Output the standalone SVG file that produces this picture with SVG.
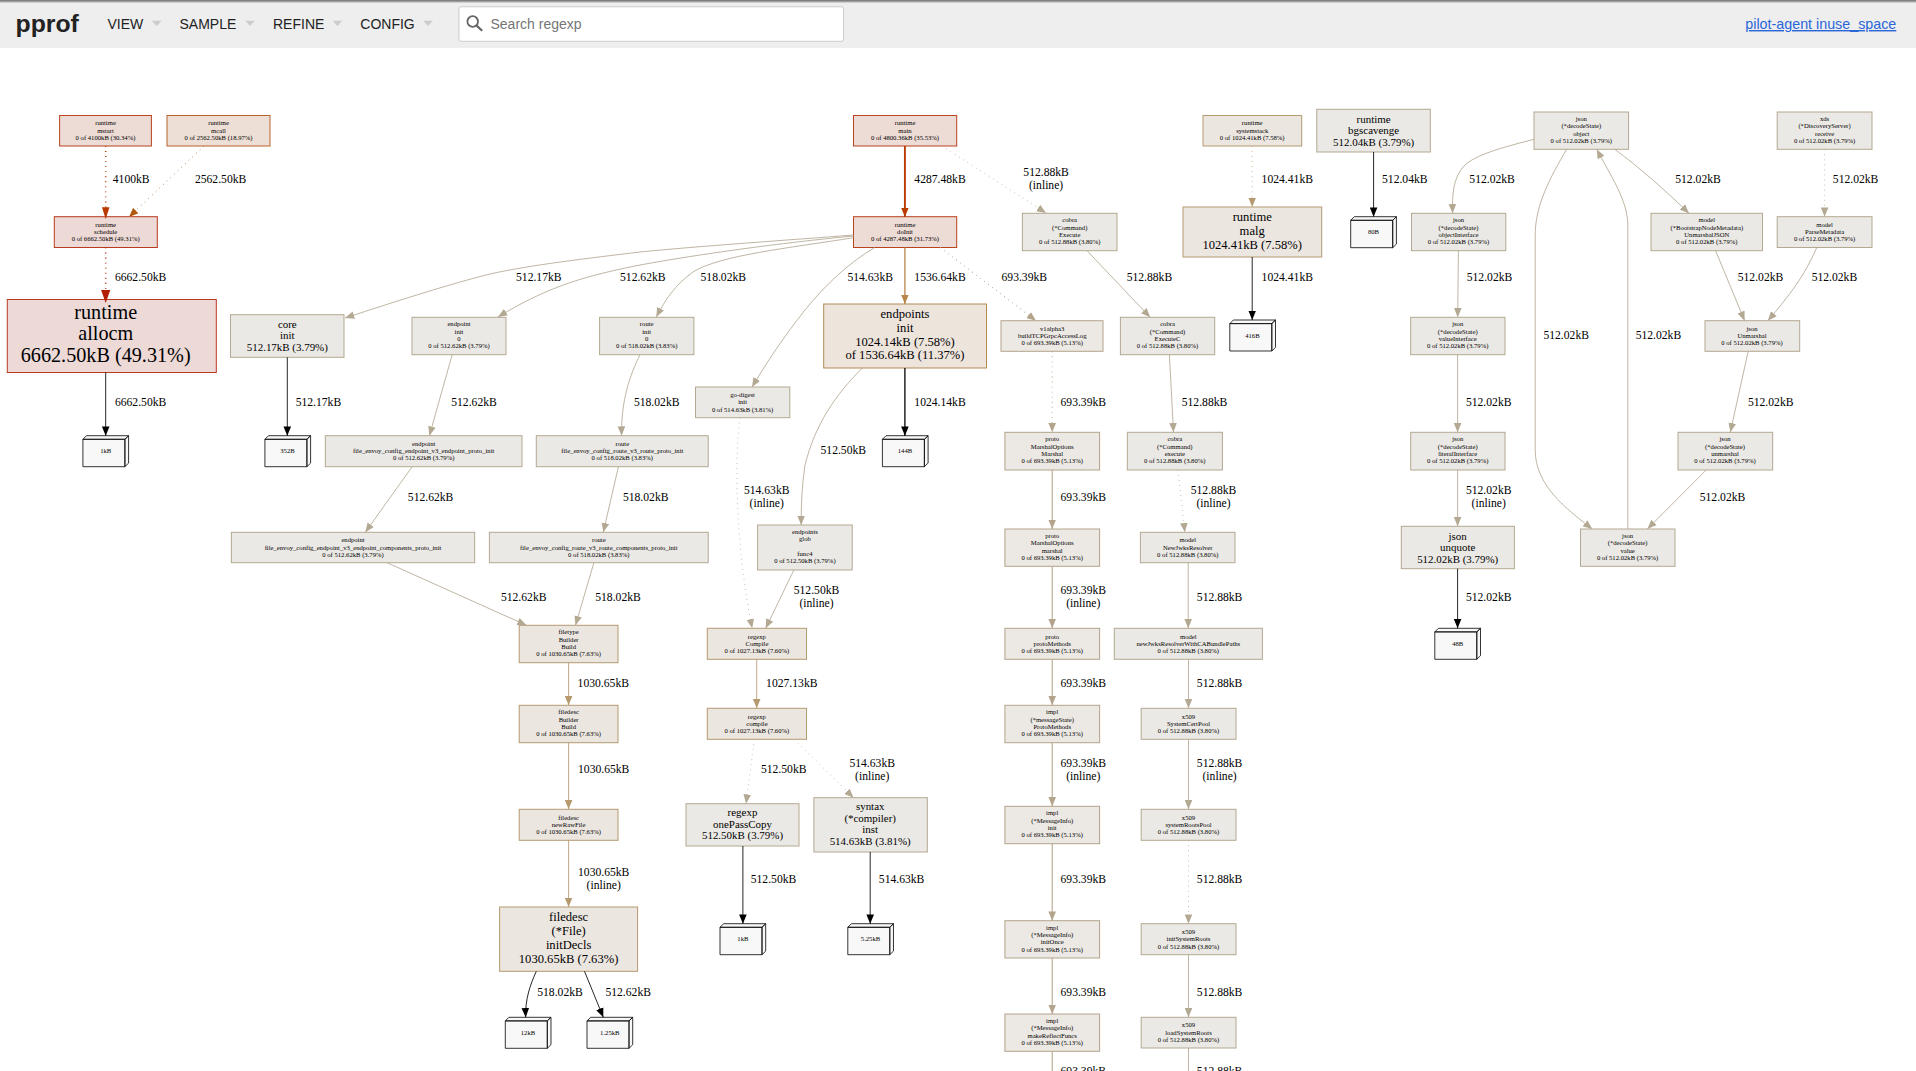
<svg xmlns="http://www.w3.org/2000/svg" width="1916" height="1071" viewBox="0 0 1916 1071">
<style>
text{fill:#000;font-family:"Liberation Serif","Times New Roman",serif;text-anchor:middle}
.hd{font-family:"Liberation Sans",Arial,sans-serif;text-anchor:start;font-size:14px;fill:#222}
.n{font-size:6.65px}
.e{font-size:11.64px}
.b11{font-size:10.95px}
.b12{font-size:12.58px}
.b20{font-size:20.2px}
rect.c38{fill:#ebe9e5;stroke:#b3a892}
rect.c51{fill:#ece8e3;stroke:#b3a48b}
rect.c76{fill:#ece6e0;stroke:#b59a70}
rect.c11{fill:#ede4dc;stroke:#b28a58}
rect.c19{fill:#eddfd5;stroke:#b8622a}
rect.c30{fill:#eddbd5;stroke:#b8431c}
rect.c49{fill:#edd9d6;stroke:#b83a20}
.box{fill:#f8f8f8;stroke:#111;stroke-width:.85}
.ed{fill:none;stroke-width:.85}
.d{stroke-dasharray:.85,4.2}
.s38{stroke:#b3a892;marker-end:url(#a38)}
.s51{stroke:#b3a48b;stroke-width:1.05;marker-end:url(#a51)}
.s76{stroke:#b59a70;marker-end:url(#a76)}
.s11{stroke:#b8854a;stroke-width:1.3;marker-end:url(#a11)}
.s19{stroke:#b25a10;marker-end:url(#a19)}
.s30{stroke:#b83a00;stroke-width:1.5;marker-end:url(#a30)}
.s32{stroke:#b83c00;stroke-width:1.9;marker-end:url(#a32)}
.s49{stroke:#b22000;stroke-width:1.5;marker-end:url(#a49)}
.k{stroke:#000;marker-end:url(#ak)}
.t38{stroke:#b3a892}
.t51{stroke:#b3a48b;stroke-width:1.05}
</style>
<defs>
<marker id="a38" markerUnits="userSpaceOnUse" markerWidth="10" markerHeight="8" refX="9.3" refY="4" orient="auto"><path d="M0,.2L9.3,4L0,7.8z" fill="#b3a892"/></marker>
<marker id="a51" markerUnits="userSpaceOnUse" markerWidth="10" markerHeight="8" refX="9.3" refY="4" orient="auto"><path d="M0,.2L9.3,4L0,7.8z" fill="#b3a48b"/></marker>
<marker id="a76" markerUnits="userSpaceOnUse" markerWidth="10" markerHeight="8" refX="9.3" refY="4" orient="auto"><path d="M0,.2L9.3,4L0,7.8z" fill="#b59a70"/></marker>
<marker id="a11" markerUnits="userSpaceOnUse" markerWidth="10" markerHeight="8" refX="9.3" refY="4" orient="auto"><path d="M0,.2L9.3,4L0,7.8z" fill="#b8854a"/></marker>
<marker id="a19" markerUnits="userSpaceOnUse" markerWidth="10" markerHeight="8" refX="9.3" refY="4" orient="auto"><path d="M0,.2L9.3,4L0,7.8z" fill="#b25a10"/></marker>
<marker id="a30" markerUnits="userSpaceOnUse" markerWidth="12" markerHeight="8" refX="11.7" refY="4" orient="auto"><path d="M0,.2L11.7,4L0,7.8z" fill="#b83a00"/></marker>
<marker id="a32" markerUnits="userSpaceOnUse" markerWidth="10" markerHeight="8" refX="9.3" refY="4" orient="auto"><path d="M0,.2L9.3,4L0,7.8z" fill="#b83c00"/></marker>
<marker id="a49" markerUnits="userSpaceOnUse" markerWidth="13" markerHeight="10" refX="13" refY="5" orient="auto"><path d="M0,.4L13,5L0,9.6z" fill="#b22000"/></marker>
<marker id="ak" markerUnits="userSpaceOnUse" markerWidth="10" markerHeight="8" refX="9.3" refY="4" orient="auto"><path d="M0,.2L9.3,4L0,7.8z" fill="#000"/></marker>
<path id="cube" class="box" d="M0,3.6L42,3.6L42,31L0,31ZM0,3.6L3.6,0L45.7,0L42,3.6ZM45.7,0L45.7,27.4L42,31L42,3.6Z"/>
</defs>
<rect width="1916" height="1071" fill="#fff"/>
<g id="header">
<rect width="1916" height="48" fill="#eee"/>
<rect width="1916" height="1" fill="#808080"/>
<rect y="1" width="1916" height="1" fill="#a0a0a0"/>
<rect y="2" width="1916" height="1" fill="#cfcfcf"/>
<text class="hd" x="15.5" y="32" style="font-size:24.8px;font-weight:bold">pprof</text>
<text class="hd" x="107.5" y="29">VIEW</text><path d="M151.8,20.8H161.6L156.7,26z" fill="#ccc"/>
<text class="hd" x="179.5" y="29">SAMPLE</text><path d="M245.3,20.8H254.9L250.1,26z" fill="#ccc"/>
<text class="hd" x="273" y="29">REFINE</text><path d="M332.7,20.8H342.3L337.5,26z" fill="#ccc"/>
<text class="hd" x="360.3" y="29">CONFIG</text><path d="M423.3,20.8H432.9L428.1,26z" fill="#ccc"/>
<rect x="459" y="6.8" width="384.5" height="34.5" rx="2" fill="#fff" stroke="#ccc"/>
<circle cx="472.7" cy="21.5" r="5.3" fill="none" stroke="#666" stroke-width="1.8"/>
<path d="M476.6,25.6L482.2,30.7" fill="none" stroke="#666" stroke-width="2.2"/>
<text class="hd" x="490.5" y="29" style="fill:#757575">Search regexp</text>
<text class="hd" x="1745.3" y="29" style="fill:#2a66d9;font-size:14.3px;text-decoration:underline">pilot-agent inuse_space</text>
</g>
<g id="nodes">
<g id="n1"><rect class="c30" x="59.6" y="115.5" width="91.8" height="30.5"/><text class="n" y="125.4"><tspan x="105.5">runtime</tspan><tspan x="105.5" dy="7.3">mstart</tspan><tspan x="105.5" dy="7.3">0 of 4100kB (30.34%)</tspan></text></g>
<g id="n2"><rect class="c19" x="167" y="115.5" width="103" height="30.5"/><text class="n" y="125.4"><tspan x="218.5">runtime</tspan><tspan x="218.5" dy="7.3">mcall</tspan><tspan x="218.5" dy="7.3">0 of 2562.50kB (18.97%)</tspan></text></g>
<g id="n3"><rect class="c49" x="54.3" y="216.7" width="103" height="30.8"/><text class="n" y="226.6"><tspan x="105.7">runtime</tspan><tspan x="105.7" dy="7.3">schedule</tspan><tspan x="105.7" dy="7.3">0 of 6662.50kB (49.31%)</tspan></text></g>
<g id="n4"><rect class="c49" x="7.3" y="299.5" width="209" height="73"/><text class="b20" y="318.7"><tspan x="105.7">runtime</tspan><tspan x="105.7" dy="21.7">allocm</tspan><tspan x="105.7" dy="21.7">6662.50kB (49.31%)</tspan></text></g>
<g id="n5"><use href="#cube" x="82.9" y="435.7"/><text class="n" x="105.7" y="453.3">1kB</text></g>
<g id="n6"><rect class="c38" x="230.5" y="314.7" width="113.5" height="42.6"/><text class="b11" y="327.5"><tspan x="287.3">core</tspan><tspan x="287.3" dy="11.8">init</tspan><tspan x="287.3" dy="11.8">512.17kB (3.79%)</tspan></text></g>
<g id="n7"><use href="#cube" x="264.9" y="435.7"/><text class="n" x="287.5" y="453.3">352B</text></g>
<g id="n8"><rect class="c38" x="412" y="317.3" width="94" height="37.4"/><text class="n" y="326.2"><tspan x="459">endpoint</tspan><tspan x="459" dy="7.3">init</tspan><tspan x="459" dy="7.3">0</tspan><tspan x="459" dy="7.3">0 of 512.62kB (3.79%)</tspan></text></g>
<g id="n9"><rect class="c38" x="599.6" y="317.3" width="94.3" height="37.4"/><text class="n" y="326.2"><tspan x="646.7">route</tspan><tspan x="646.7" dy="7.3">init</tspan><tspan x="646.7" dy="7.3">0</tspan><tspan x="646.7" dy="7.3">0 of 518.02kB (3.83%)</tspan></text></g>
<g id="n10"><rect class="c38" x="325.3" y="435.7" width="196.7" height="31"/><text class="n" y="445.8"><tspan x="423.7">endpoint</tspan><tspan x="423.7" dy="7.3">file_envoy_config_endpoint_v3_endpoint_proto_init</tspan><tspan x="423.7" dy="7.3">0 of 512.62kB (3.79%)</tspan></text></g>
<g id="n11"><rect class="c38" x="536.3" y="435.7" width="171.9" height="31"/><text class="n" y="445.8"><tspan x="622.3">route</tspan><tspan x="622.3" dy="7.3">file_envoy_config_route_v3_route_proto_init</tspan><tspan x="622.3" dy="7.3">0 of 518.02kB (3.83%)</tspan></text></g>
<g id="n12"><rect class="c38" x="231.4" y="532.3" width="243.3" height="30.4"/><text class="n" y="542.3"><tspan x="353">endpoint</tspan><tspan x="353" dy="7.3">file_envoy_config_endpoint_v3_endpoint_components_proto_init</tspan><tspan x="353" dy="7.3">0 of 512.62kB (3.79%)</tspan></text></g>
<g id="n13"><rect class="c38" x="489.4" y="532.3" width="218.8" height="30.4"/><text class="n" y="542.3"><tspan x="598.8">route</tspan><tspan x="598.8" dy="7.3">file_envoy_config_route_v3_route_components_proto_init</tspan><tspan x="598.8" dy="7.3">0 of 518.02kB (3.83%)</tspan></text></g>
<g id="n14"><rect class="c76" x="519.2" y="625.3" width="98.8" height="37.4"/><text class="n" y="634.2"><tspan x="568.6">filetype</tspan><tspan x="568.6" dy="7.3">Builder</tspan><tspan x="568.6" dy="7.3">Build</tspan><tspan x="568.6" dy="7.3">0 of 1030.65kB (7.63%)</tspan></text></g>
<g id="n15"><rect class="c76" x="519.2" y="705.3" width="98.8" height="37.4"/><text class="n" y="714.2"><tspan x="568.6">filedesc</tspan><tspan x="568.6" dy="7.3">Builder</tspan><tspan x="568.6" dy="7.3">Build</tspan><tspan x="568.6" dy="7.3">0 of 1030.65kB (7.63%)</tspan></text></g>
<g id="n16"><rect class="c76" x="519.2" y="809.3" width="98.8" height="31"/><text class="n" y="819.6"><tspan x="568.6">filedesc</tspan><tspan x="568.6" dy="7.3">newRawFile</tspan><tspan x="568.6" dy="7.3">0 of 1030.65kB (7.63%)</tspan></text></g>
<g id="n17"><rect class="c76" x="499.6" y="907" width="138" height="64.3"/><text class="b12" y="921"><tspan x="568.6">filedesc</tspan><tspan x="568.6" dy="14">(*File)</tspan><tspan x="568.6" dy="13.7">initDecls</tspan><tspan x="568.6" dy="13.8">1030.65kB (7.63%)</tspan></text></g>
<g id="n18"><use href="#cube" x="505.3" y="1017.3"/><text class="n" x="528" y="1035">12kB</text></g>
<g id="n19"><use href="#cube" x="587" y="1017.3"/><text class="n" x="609.8" y="1035">1.25kB</text></g>
<g id="n20"><rect class="c30" x="853.5" y="115.5" width="103.2" height="30.5"/><text class="n" y="125.4"><tspan x="905">runtime</tspan><tspan x="905" dy="7.3">main</tspan><tspan x="905" dy="7.3">0 of 4800.36kB (35.53%)</tspan></text></g>
<g id="n21"><rect class="c30" x="853.5" y="216.7" width="103.2" height="30.8"/><text class="n" y="226.6"><tspan x="905">runtime</tspan><tspan x="905" dy="7.3">doInit</tspan><tspan x="905" dy="7.3">0 of 4287.48kB (31.73%)</tspan></text></g>
<g id="n22"><rect class="c38" x="1022.4" y="213.3" width="94.6" height="37.4"/><text class="n" y="222.2"><tspan x="1069.7">cobra</tspan><tspan x="1069.7" dy="7.3">(*Command)</tspan><tspan x="1069.7" dy="7.3">Execute</tspan><tspan x="1069.7" dy="7.3">0 of 512.88kB (3.80%)</tspan></text></g>
<g id="n23"><rect class="c11" x="823.7" y="304" width="162.8" height="64"/><text class="b12" y="318.2"><tspan x="905">endpoints</tspan><tspan x="905" dy="13.7">init</tspan><tspan x="905" dy="13.7">1024.14kB (7.58%)</tspan><tspan x="905" dy="13.7">of 1536.64kB (11.37%)</tspan></text></g>
<g id="n24"><rect class="c51" x="1001" y="320.7" width="102" height="30.6"/><text class="n" y="330.6"><tspan x="1052.2">v1alpha3</tspan><tspan x="1052.2" dy="7.3">buildTCPGrpcAccessLog</tspan><tspan x="1052.2" dy="7.3">0 of 693.39kB (5.13%)</tspan></text></g>
<g id="n25"><rect class="c38" x="1120.4" y="317.3" width="94.3" height="37.4"/><text class="n" y="326.2"><tspan x="1167.5">cobra</tspan><tspan x="1167.5" dy="7.3">(*Command)</tspan><tspan x="1167.5" dy="7.3">ExecuteC</tspan><tspan x="1167.5" dy="7.3">0 of 512.88kB (3.80%)</tspan></text></g>
<g id="n26"><rect class="c76" x="1203" y="115.5" width="98.7" height="30.5"/><text class="n" y="125.4"><tspan x="1252.2">runtime</tspan><tspan x="1252.2" dy="7.3">systemstack</tspan><tspan x="1252.2" dy="7.3">0 of 1024.41kB (7.58%)</tspan></text></g>
<g id="n27"><rect class="c76" x="1183" y="207" width="138.7" height="50"/><text class="b12" y="221"><tspan x="1252.2">runtime</tspan><tspan x="1252.2" dy="13.9">malg</tspan><tspan x="1252.2" dy="13.9">1024.41kB (7.58%)</tspan></text></g>
<g id="n28"><use href="#cube" x="1229.8" y="320"/><text class="n" x="1252.4" y="338">416B</text></g>
<g id="n29"><rect class="c38" x="1316.8" y="109.3" width="113.5" height="42.7"/><text class="b11" y="122.5"><tspan x="1373.6">runtime</tspan><tspan x="1373.6" dy="11.8">bgscavenge</tspan><tspan x="1373.6" dy="11.8">512.04kB (3.79%)</tspan></text></g>
<g id="n30"><use href="#cube" x="1350.7" y="216.7"/><text class="n" x="1373.5" y="234.3">80B</text></g>
<g id="n31"><rect class="c38" x="1534" y="112" width="94.6" height="37.3"/><text class="n" y="120.9"><tspan x="1581.3">json</tspan><tspan x="1581.3" dy="7.3">(*decodeState)</tspan><tspan x="1581.3" dy="7.3">object</tspan><tspan x="1581.3" dy="7.3">0 of 512.02kB (3.79%)</tspan></text></g>
<g id="n32"><rect class="c38" x="1777.2" y="112" width="94.8" height="37.3"/><text class="n" y="120.9"><tspan x="1824.6">xds</tspan><tspan x="1824.6" dy="7.3">(*DiscoveryServer)</tspan><tspan x="1824.6" dy="7.3">receive</tspan><tspan x="1824.6" dy="7.3">0 of 512.02kB (3.79%)</tspan></text></g>
<g id="n33"><rect class="c38" x="1411.5" y="213.3" width="94.3" height="37.4"/><text class="n" y="222.2"><tspan x="1458.5">json</tspan><tspan x="1458.5" dy="7.3">(*decodeState)</tspan><tspan x="1458.5" dy="7.3">objectInterface</tspan><tspan x="1458.5" dy="7.3">0 of 512.02kB (3.79%)</tspan></text></g>
<g id="n34"><rect class="c38" x="1651" y="213.3" width="111.5" height="37.4"/><text class="n" y="222.2"><tspan x="1706.8">model</tspan><tspan x="1706.8" dy="7.3">(*BootstrapNodeMetadata)</tspan><tspan x="1706.8" dy="7.3">UnmarshalJSON</tspan><tspan x="1706.8" dy="7.3">0 of 512.02kB (3.79%)</tspan></text></g>
<g id="n35"><rect class="c38" x="1777.2" y="216.7" width="94.8" height="30.8"/><text class="n" y="226.6"><tspan x="1824.6">model</tspan><tspan x="1824.6" dy="7.3">ParseMetadata</tspan><tspan x="1824.6" dy="7.3">0 of 512.02kB (3.79%)</tspan></text></g>
<g id="n36"><rect class="c38" x="1410.7" y="317.3" width="94.3" height="37.4"/><text class="n" y="326.2"><tspan x="1457.7">json</tspan><tspan x="1457.7" dy="7.3">(*decodeState)</tspan><tspan x="1457.7" dy="7.3">valueInterface</tspan><tspan x="1457.7" dy="7.3">0 of 512.02kB (3.79%)</tspan></text></g>
<g id="n37"><rect class="c38" x="1705" y="320.7" width="94.7" height="30.6"/><text class="n" y="330.6"><tspan x="1752">json</tspan><tspan x="1752" dy="7.3">Unmarshal</tspan><tspan x="1752" dy="7.3">0 of 512.02kB (3.79%)</tspan></text></g>
<g id="n38"><rect class="c38" x="1410.7" y="432.3" width="94.3" height="37.7"/><text class="n" y="441.3"><tspan x="1457.7">json</tspan><tspan x="1457.7" dy="7.3">(*decodeState)</tspan><tspan x="1457.7" dy="7.3">literalInterface</tspan><tspan x="1457.7" dy="7.3">0 of 512.02kB (3.79%)</tspan></text></g>
<g id="n39"><rect class="c38" x="1678" y="432.3" width="94.7" height="37.7"/><text class="n" y="441.3"><tspan x="1725">json</tspan><tspan x="1725" dy="7.3">(*decodeState)</tspan><tspan x="1725" dy="7.3">unmarshal</tspan><tspan x="1725" dy="7.3">0 of 512.02kB (3.79%)</tspan></text></g>
<g id="n40"><rect class="c38" x="1401.3" y="526.3" width="113.1" height="42.4"/><text class="b11" y="539.5"><tspan x="1457.7">json</tspan><tspan x="1457.7" dy="11.8">unquote</tspan><tspan x="1457.7" dy="11.8">512.02kB (3.79%)</tspan></text></g>
<g id="n41"><rect class="c38" x="1580.5" y="529" width="94.5" height="37.3"/><text class="n" y="537.9"><tspan x="1627.6">json</tspan><tspan x="1627.6" dy="7.3">(*decodeState)</tspan><tspan x="1627.6" dy="7.3">value</tspan><tspan x="1627.6" dy="7.3">0 of 512.02kB (3.79%)</tspan></text></g>
<g id="n42"><use href="#cube" x="1434.8" y="628.3"/><text class="n" x="1457.7" y="646">48B</text></g>
<g id="n43"><rect class="c38" x="695.5" y="387" width="94.3" height="30.7"/><text class="n" y="397"><tspan x="742.6">go-digest</tspan><tspan x="742.6" dy="7.3">init</tspan><tspan x="742.6" dy="7.3">0 of 514.63kB (3.81%)</tspan></text></g>
<g id="n44"><use href="#cube" x="882.4" y="435.7"/><text class="n" x="905" y="453.3">144B</text></g>
<g id="n45"><rect class="c38" x="757.6" y="525" width="94.6" height="45"/><text class="n" y="533.6"><tspan x="804.9">endpoints</tspan><tspan x="804.9" dy="7.3">glob</tspan><tspan x="804.9" dy="14.6">func4</tspan><tspan x="804.9" dy="7.3">0 of 512.50kB (3.79%)</tspan></text></g>
<g id="n46"><rect class="c76" x="707.3" y="628.3" width="99.2" height="31"/><text class="n" y="638.5"><tspan x="756.9">regexp</tspan><tspan x="756.9" dy="7.3">Compile</tspan><tspan x="756.9" dy="7.3">0 of 1027.13kB (7.60%)</tspan></text></g>
<g id="n47"><rect class="c76" x="707.3" y="708.3" width="99.2" height="31"/><text class="n" y="718.5"><tspan x="756.9">regexp</tspan><tspan x="756.9" dy="7.3">compile</tspan><tspan x="756.9" dy="7.3">0 of 1027.13kB (7.60%)</tspan></text></g>
<g id="n48"><rect class="c38" x="686" y="803.7" width="113" height="42.3"/><text class="b11" y="816"><tspan x="742.5">regexp</tspan><tspan x="742.5" dy="11.7">onePassCopy</tspan><tspan x="742.5" dy="11.7">512.50kB (3.79%)</tspan></text></g>
<g id="n49"><rect class="c38" x="813.9" y="797.7" width="113.4" height="54.3"/><text class="b11" y="809.8"><tspan x="870.2">syntax</tspan><tspan x="870.2" dy="11.7">(*compiler)</tspan><tspan x="870.2" dy="11.7">inst</tspan><tspan x="870.2" dy="11.7">514.63kB (3.81%)</tspan></text></g>
<g id="n50"><use href="#cube" x="720" y="923.7"/><text class="n" x="742.9" y="941.3">1kB</text></g>
<g id="n51"><use href="#cube" x="847.8" y="923.7"/><text class="n" x="870.5" y="941.3">5.25kB</text></g>
<g id="n52"><rect class="c51" x="1004.9" y="432.3" width="94.7" height="37.7"/><text class="n" y="441.3"><tspan x="1052.2">proto</tspan><tspan x="1052.2" dy="7.3">MarshalOptions</tspan><tspan x="1052.2" dy="7.3">Marshal</tspan><tspan x="1052.2" dy="7.3">0 of 693.39kB (5.13%)</tspan></text></g>
<g id="n53"><rect class="c51" x="1004.9" y="529" width="94.7" height="37.3"/><text class="n" y="537.9"><tspan x="1052.2">proto</tspan><tspan x="1052.2" dy="7.3">MarshalOptions</tspan><tspan x="1052.2" dy="7.3">marshal</tspan><tspan x="1052.2" dy="7.3">0 of 693.39kB (5.13%)</tspan></text></g>
<g id="n54"><rect class="c51" x="1004.9" y="628.3" width="94.7" height="31"/><text class="n" y="638.5"><tspan x="1052.2">proto</tspan><tspan x="1052.2" dy="7.3">protoMethods</tspan><tspan x="1052.2" dy="7.3">0 of 693.39kB (5.13%)</tspan></text></g>
<g id="n55"><rect class="c51" x="1004.9" y="705.3" width="94.7" height="37.4"/><text class="n" y="714.2"><tspan x="1052.2">impl</tspan><tspan x="1052.2" dy="7.3">(*messageState)</tspan><tspan x="1052.2" dy="7.3">ProtoMethods</tspan><tspan x="1052.2" dy="7.3">0 of 693.39kB (5.13%)</tspan></text></g>
<g id="n56"><rect class="c51" x="1004.9" y="806.3" width="94.7" height="37.4"/><text class="n" y="815.2"><tspan x="1052.2">impl</tspan><tspan x="1052.2" dy="7.3">(*MessageInfo)</tspan><tspan x="1052.2" dy="7.3">init</tspan><tspan x="1052.2" dy="7.3">0 of 693.39kB (5.13%)</tspan></text></g>
<g id="n57"><rect class="c51" x="1004.9" y="920.7" width="94.7" height="37.3"/><text class="n" y="929.6"><tspan x="1052.2">impl</tspan><tspan x="1052.2" dy="7.3">(*MessageInfo)</tspan><tspan x="1052.2" dy="7.3">initOnce</tspan><tspan x="1052.2" dy="7.3">0 of 693.39kB (5.13%)</tspan></text></g>
<g id="n58"><rect class="c51" x="1004.9" y="1014" width="94.7" height="37.3"/><text class="n" y="1022.9"><tspan x="1052.2">impl</tspan><tspan x="1052.2" dy="7.3">(*MessageInfo)</tspan><tspan x="1052.2" dy="7.3">makeReflectFuncs</tspan><tspan x="1052.2" dy="7.3">0 of 693.39kB (5.13%)</tspan></text></g>
<g id="n59"><rect class="c38" x="1127.3" y="432.3" width="95.1" height="37.7"/><text class="n" y="441.3"><tspan x="1174.8">cobra</tspan><tspan x="1174.8" dy="7.3">(*Command)</tspan><tspan x="1174.8" dy="7.3">execute</tspan><tspan x="1174.8" dy="7.3">0 of 512.88kB (3.80%)</tspan></text></g>
<g id="n60"><rect class="c38" x="1140.4" y="532.3" width="94.6" height="30.4"/><text class="n" y="542.3"><tspan x="1187.8">model</tspan><tspan x="1187.8" dy="7.3">NewJwksResolver</tspan><tspan x="1187.8" dy="7.3">0 of 512.88kB (3.80%)</tspan></text></g>
<g id="n61"><rect class="c38" x="1114.3" y="628.3" width="148.1" height="31"/><text class="n" y="638.5"><tspan x="1188.3">model</tspan><tspan x="1188.3" dy="7.3">newJwksResolverWithCABundlePaths</tspan><tspan x="1188.3" dy="7.3">0 of 512.88kB (3.80%)</tspan></text></g>
<g id="n62"><rect class="c38" x="1141.2" y="708.3" width="94.8" height="31"/><text class="n" y="718.5"><tspan x="1188.5">x509</tspan><tspan x="1188.5" dy="7.3">SystemCertPool</tspan><tspan x="1188.5" dy="7.3">0 of 512.88kB (3.80%)</tspan></text></g>
<g id="n63"><rect class="c38" x="1141.2" y="809.3" width="94.8" height="31"/><text class="n" y="819.5"><tspan x="1188.5">x509</tspan><tspan x="1188.5" dy="7.3">systemRootsPool</tspan><tspan x="1188.5" dy="7.3">0 of 512.88kB (3.80%)</tspan></text></g>
<g id="n64"><rect class="c38" x="1141.2" y="923.7" width="94.8" height="31"/><text class="n" y="933.9"><tspan x="1188.5">x509</tspan><tspan x="1188.5" dy="7.3">initSystemRoots</tspan><tspan x="1188.5" dy="7.3">0 of 512.88kB (3.80%)</tspan></text></g>
<g id="n65"><rect class="c38" x="1141.2" y="1017.3" width="94.8" height="30.7"/><text class="n" y="1027.4"><tspan x="1188.5">x509</tspan><tspan x="1188.5" dy="7.3">loadSystemRoots</tspan><tspan x="1188.5" dy="7.3">0 of 512.88kB (3.80%)</tspan></text></g>
</g>
<g id="connectors">
<path class="ed d s30" d="M105.7,146V219"/>
<path class="ed d s19" d="M204,146L129,217"/>
<path class="ed d s49" d="M105.7,247.5V303"/>
<path class="ed k" d="M105.7,372.5V435.7"/>
<path class="ed s32" d="M904.9,146V217"/>
<path class="ed d s38" d="M942,146L1046,213"/>
<path class="ed s38" d="M853.5,235C790,240 700,246 640,252C590,258 530,265 490,274C450,284 400,300 345,318"/>
<path class="ed s38" d="M853.5,236C780,243 700,254 640,265C590,275 550,285 498,317"/>
<path class="ed s38" d="M853.5,237.7C790,248 720,255 693,272C675,285 665,300 656.3,317"/>
<path class="ed s38" d="M874.7,247.5C850,262 825,285 805,310C785,335 765,365 752,387"/>
<path class="ed s11" d="M904.9,247.5V304"/>
<path class="ed d s51" d="M940,247.5L1036,320.7"/>
<path class="ed s38" d="M1087,250.7L1150.2,317.3"/>
<path class="ed d s76" d="M1252.2,146V207"/>
<path class="ed k" d="M1252.2,257V320"/>
<path class="ed k" d="M1373.6,152V216.7"/>
<path class="ed s38" d="M1534,139.3C1500,148 1475,155 1464,166C1453,178 1452,195 1452.7,213.3"/>
<path class="ed s38" d="M1614.8,149.3C1640,168 1665,190 1689,213.3"/>
<path class="ed s38" d="M1566.6,149.3C1550,178 1535.2,205 1535.2,235L1535.2,450C1535.2,485 1565,508 1592.3,529"/>
<path class="ed s38" d="M1627.8,529L1627.8,225C1627.8,200 1610,175 1596.8,149.3"/>
<path class="ed d s38" d="M1824.6,149.3V216.7"/>
<path class="ed s38" d="M1458.4,250.7L1457.7,317.3"/>
<path class="ed s38" d="M1715.6,250.7L1744.6,320.7"/>
<path class="ed s38" d="M1816.8,247.5C1805,275 1790,295 1767.8,320.7"/>
<path class="ed s38" d="M1457.6,354.7V432.3"/>
<path class="ed s38" d="M1748.2,351.3L1730.3,432.3"/>
<path class="ed s38" d="M1457.6,470V526.3"/>
<path class="ed s38" d="M1706.2,470L1647.4,529"/>
<path class="ed k" d="M1457.6,568.7V628.3"/>
<path class="ed k" d="M287.3,357.3V435.7"/>
<path class="ed s38" d="M452.2,354.7L429.4,435.7"/>
<path class="ed s38" d="M412.2,466.7L365.3,532.3"/>
<path class="ed s38" d="M387,562.7L526.5,625.3"/>
<path class="ed s38" d="M640,354.7C630,375 621,400 621.6,435.7"/>
<path class="ed s38" d="M618.4,466.7L603.3,532.3"/>
<path class="ed s38" d="M593.9,562.7L575.5,625.3"/>
<path class="ed s76" d="M568.6,662.7V705.3"/>
<path class="ed s76" d="M568.6,742.7V809.3"/>
<path class="ed s76" d="M568.6,840.3V907"/>
<path class="ed k" d="M536.3,971.3C530,985 525,1000 525.7,1017.3"/>
<path class="ed k" d="M584.5,971.3L603.3,1017.3"/>
<path class="ed s38" d="M862.4,368C835,395 815,425 805,465C802,485 801,505 801.2,525"/>
<path class="ed k" style="stroke-width:1.3" d="M904.9,368V435.7"/>
<path class="ed d s38" d="M740,417.7C733,470 738,560 752.2,628.3"/>
<path class="ed s38" d="M793.9,570L765.7,628.3"/>
<path class="ed s76" d="M756.7,659.3V708.3"/>
<path class="ed d s38" d="M754.3,739.3L746.1,803.7"/>
<path class="ed d s38" d="M794.3,739.3L853.5,797.7"/>
<path class="ed k" d="M742.9,846V923.7"/>
<path class="ed k" d="M870.2,852V923.7"/>
<path class="ed d s51" d="M1052.2,351.3V432.3"/>
<path class="ed s51" d="M1052.2,470V529"/>
<path class="ed s51" d="M1052.2,566.3V628.3"/>
<path class="ed s51" d="M1052.2,659.3V705.3"/>
<path class="ed s51" d="M1052.2,742.7V806.3"/>
<path class="ed s51" d="M1052.2,843.7V920.7"/>
<path class="ed s51" d="M1052.2,958V1014"/>
<path class="ed t51" d="M1052.2,1051.3V1071"/>
<path class="ed s38" d="M1169.4,354.7L1173.5,432.3"/>
<path class="ed d s38" d="M1178,470L1184.9,532.3"/>
<path class="ed s38" d="M1188.2,562.7V628.3"/>
<path class="ed s38" d="M1188.5,659.3V708.3"/>
<path class="ed s38" d="M1188.5,739.3V809.3"/>
<path class="ed d s38" d="M1188.5,840.3V923.7"/>
<path class="ed s38" d="M1188.5,954.7V1017.3"/>
<path class="ed t38" d="M1188.5,1048V1071"/>
<g id="edge-labels" class="e">
<text x="131.2" y="183">4100kB</text>
<text x="220.6" y="183">2562.50kB</text>
<text x="140.6" y="281">6662.50kB</text>
<text x="538.8" y="281">512.17kB</text>
<text x="642.8" y="281">512.62kB</text>
<text x="723.3" y="281">518.02kB</text>
<text x="870.2" y="281">514.63kB</text>
<text x="940" y="281">1536.64kB</text>
<text x="1024.3" y="281">693.39kB</text>
<text x="1149.4" y="281">512.88kB</text>
<text x="1287.3" y="281">1024.41kB</text>
<text x="940" y="183">4287.48kB</text>
<text x="1046.1" y="176">512.88kB<tspan x="1046.1" dy="13">(inline)</tspan></text>
<text x="1287.3" y="183">1024.41kB</text>
<text x="1404.8" y="183">512.04kB</text>
<text x="1492.1" y="183">512.02kB</text>
<text x="1698" y="183">512.02kB</text>
<text x="1855.6" y="183">512.02kB</text>
<text x="1489.5" y="281">512.02kB</text>
<text x="1760.5" y="281">512.02kB</text>
<text x="1834.4" y="281">512.02kB</text>
<text x="1566.2" y="339">512.02kB</text>
<text x="1658.4" y="339">512.02kB</text>
<text x="1488.7" y="406">512.02kB</text>
<text x="1770.7" y="406">512.02kB</text>
<text x="1488.7" y="494">512.02kB<tspan x="1488.7" dy="13">(inline)</tspan></text>
<text x="1722.5" y="501">512.02kB</text>
<text x="1488.7" y="601">512.02kB</text>
<text x="140.6" y="406">6662.50kB</text>
<text x="318.4" y="406">512.17kB</text>
<text x="474" y="406">512.62kB</text>
<text x="656.7" y="406">518.02kB</text>
<text x="430.6" y="501">512.62kB</text>
<text x="645.7" y="501">518.02kB</text>
<text x="523.7" y="601">512.62kB</text>
<text x="618" y="601">518.02kB</text>
<text x="603.3" y="687">1030.65kB</text>
<text x="940" y="406">1024.14kB</text>
<text x="1083.3" y="406">693.39kB</text>
<text x="1204.5" y="406">512.88kB</text>
<text x="843.3" y="454">512.50kB</text>
<text x="766.7" y="494">514.63kB<tspan x="766.7" dy="13">(inline)</tspan></text>
<text x="1083.3" y="501">693.39kB</text>
<text x="1213.5" y="494">512.88kB<tspan x="1213.5" dy="13">(inline)</tspan></text>
<text x="816.5" y="594">512.50kB<tspan x="816.5" dy="13">(inline)</tspan></text>
<text x="1083.3" y="594">693.39kB<tspan x="1083.3" dy="13">(inline)</tspan></text>
<text x="1219.6" y="601">512.88kB</text>
<text x="791.8" y="687">1027.13kB</text>
<text x="1083.3" y="687">693.39kB</text>
<text x="1219.6" y="687">512.88kB</text>
<text x="603.7" y="773">1030.65kB</text>
<text x="783.7" y="773">512.50kB</text>
<text x="872.2" y="767">514.63kB<tspan x="872.2" dy="13">(inline)</tspan></text>
<text x="1083.3" y="767">693.39kB<tspan x="1083.3" dy="13">(inline)</tspan></text>
<text x="1219.6" y="767">512.88kB<tspan x="1219.6" dy="13">(inline)</tspan></text>
<text x="603.7" y="876">1030.65kB<tspan x="603.7" dy="13">(inline)</tspan></text>
<text x="773.5" y="883">512.50kB</text>
<text x="901.6" y="883">514.63kB</text>
<text x="1083.3" y="883">693.39kB</text>
<text x="1219.6" y="883">512.88kB</text>
<text x="560" y="996">518.02kB</text>
<text x="628.2" y="996">512.62kB</text>
<text x="1083.3" y="996">693.39kB</text>
<text x="1219.6" y="996">512.88kB</text>
<text x="1083.3" y="1075">693.39kB</text>
<text x="1219.6" y="1075">512.88kB</text>
</g>
</g>
</svg>
